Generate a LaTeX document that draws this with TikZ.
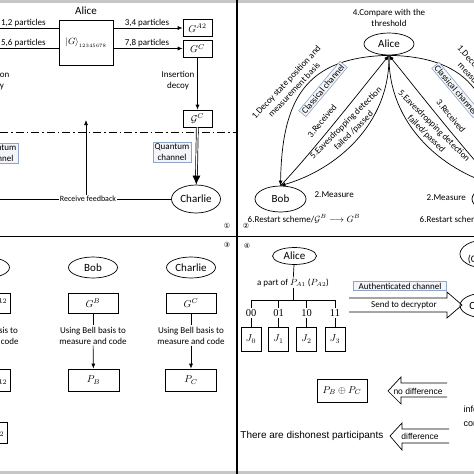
\documentclass[tikz,border=0pt]{standalone}
\usepackage{fontspec}
\setmainfont{Carlito}
\newfontfamily\arialfont{Liberation Sans}
\newfontfamily\serifnum{Liberation Serif}
\newfontfamily\symbfont{DejaVu Sans}
\usetikzlibrary{arrows.meta, shapes.geometric}

\definecolor{chanedge}{RGB}{140,165,200}
\definecolor{chanfill}{RGB}{243,245,249}

\begin{document}
\begin{tikzpicture}[
  x=1pt, y=-1pt, line width=0.7pt,
  font=\fontsize{9}{11}\selectfont,
  party/.style={
    draw, ellipse, minimum width=49pt, minimum height=21pt,
    inner sep=0pt, font=\fontsize{11}{12}\selectfont
  },
  mbox/.style={
    draw, rectangle, minimum width=50pt, minimum height=20pt,
    inner sep=1pt, font=\fontsize{10}{11}\selectfont
  },
  sbox/.style={mbox, minimum width=29pt, minimum height=17pt},
  jbox/.style={mbox, minimum width=20pt, minimum height=24pt},
  rbox/.style={mbox, text width=44pt, align=right, inner sep=2pt},
  chan/.style={
    draw=chanedge, fill=chanfill, line width=0.6pt,
    inner sep=1.5pt, align=center
  },
  lbl/.style={align=center, inner sep=1pt},
  bit/.style={font=\serifnum\fontsize{10.5}{12}\selectfont, inner sep=1.5pt},
  arr/.style={-{Latex[length=5pt,width=4pt]}},
  qarr/.style={double, double distance=1.2pt, -{Latex[length=9pt,width=8pt]}},
  hollow/.style={line join=miter},
  num/.style={font=\symbfont\fontsize{7}{8}\selectfont, inner sep=0pt},
  sep/.style={line width=1.8pt},
  band/.style={fill=gray!45},
]
\useasboundingbox (0,0) rectangle (474,474);
\clip (0,0) rectangle (474,474);

% frame
\fill[band] (0,0) rectangle (474,3);
\fill[band] (0,471) rectangle (474,474);
\draw[sep] (237,0) -- (237,474);
\draw[sep] (0,236.5) -- (474,236.5);

% (1) particle distribution
\node[font=\fontsize{11}{12}\selectfont] (alice1) at (86,11) {Alice};
\node[draw, minimum width=54pt, minimum height=45pt, inner sep=0pt] (ket) at (86,42.5)
  {$\left|G\right\rangle_{\scriptscriptstyle 12345678}$};
\node[sbox] (ga2) at (197.5,28) {$G^{A2}$};
\node[sbox] (gc)  at (197.5,48.5) {$G^{C}$};
\node[sbox] (sgc) at (197.5,118.5) {$\mathcal{G}^{C}$};
\coordinate (in12) at (-5,28);
\coordinate (in56) at (-5,48.5);
\node[lbl, anchor=east] (p12) at (47,23) {1,2 particles};
\node[lbl, anchor=east] (p56) at (47,43) {5,6 particles};
\node[lbl] (p34) at (147,23) {3,4 particles};
\node[lbl] (p78) at (147,43) {7,8 particles};
\node[lbl] (ins)  at (178,81) {Insertion\\decoy};
\node[lbl] (insl) at (-7,81) {Insertion\\decoy};
\node[chan] (qc)  at (172,152) {Quantum\\channel};
\node[chan] (qcl) at (-1,153) {Quantum\\channel};
\node[party, minimum height=28pt] (charlie1) at (196,199) {Charlie};
\node[fill=white, inner sep=1pt, font=\fontsize{8}{9}\selectfont] (fb) at (88,199) {Receive feedback};
\coordinate (fbend) at (-5,199);
\coordinate (fbtop) at (86,120);
\node[num] (n1) at (227,226) {①};

\draw (ket.west |- in12) -- (in12);
\draw (ket.west |- in56) -- (in56);
\draw[arr] (ket.east |- ga2) -- (ga2);
\draw[arr] (ket.east |- gc) -- (gc);
\draw[arr] (gc) -- (sgc);
\draw[dash pattern=on 8pt off 3pt on 1.5pt off 3pt] (0,132) -- (237,132);
\draw[qarr] (sgc) -- (charlie1);
\draw (charlie1) -- (fb) -- (fbend);
\draw[arr] (fb.north -| fbtop) -- (fbtop);

% (2) decoy check
\node[lbl] (cmp) at (389,18) {4.Compare with the\\threshold};
\node[party, minimum width=50pt, minimum height=22pt] (alice2) at (389,44) {Alice};
\node[party, minimum width=51pt, minimum height=26pt] (bob2) at (280.5,199) {Bob};
\node[party, minimum width=51pt, minimum height=26pt] (charlie2) at (497.5,199) {Charlie};

\draw[arr] (alice2.south) .. controls (305,57) and (282,100) .. (bob2.north);
\draw[arr] (bob2.north) .. controls (310,155) and (365,85) .. (alice2.south);
\draw[arr] (alice2.south) .. controls (390,125) and (335,170) .. (bob2.north);
\draw[arr] (alice2.south) .. controls (473,57) and (496,100) .. (charlie2.north);
\draw[arr] (charlie2.north) .. controls (468,155) and (413,85) .. (alice2.south);
\draw[arr] (alice2.south) .. controls (388,125) and (443,170) .. (charlie2.north);

\node[lbl, rotate=47]  (dec1) at (290,86) {1.Decoy state position and\\measurement basis};
\node[chan, rotate=50] (cl1)  at (323,89) {Classical channel};
\node[lbl, rotate=50]  (rc1)  at (322,121) {3.Received};
\node[lbl, rotate=45]  (ev1)  at (350,127) {5.Eavesdropping detection\\failed /passed};
\node[lbl, rotate=-47]  (dec2) at (488,86) {1.Decoy state position and\\measurement basis};
\node[chan, rotate=-50] (cl2)  at (456,90) {Classical channel};
\node[lbl, rotate=-50]  (rc2)  at (451,116) {3.Received};
\node[lbl, rotate=-45]  (ev2)  at (430,130) {5.Eavesdropping detection\\failed/passed};

\node[anchor=west] (ms1) at (311,195) {2.Measure};
\node (rs1) at (304,219) {6.Restart scheme/$\mathcal{G}^B\longrightarrow G^B$};
\node[anchor=west] (ms2) at (423,198) {2.Measure};
\node[anchor=west] (rs2) at (416,219) {6.Restart scheme/$\mathcal{G}^C\longrightarrow G^C$};
\node[num] (n2) at (246,226) {②};

% (3) measurement
\node[num] (n3) at (227,245) {③};
\node[party] (alice3)   at (-15,267.5) {Alice};
\node[party] (bob3)     at (93,267.5) {Bob};
\node[party] (charlie3) at (191,267.5) {Charlie};
\node[rbox] (ga3) at (-15,303) {$G^{A2}$};
\node[mbox] (gb3) at (93,303) {$G^{B}$};
\node[mbox] (gc3) at (191,303) {$G^{C}$};
\node[lbl] (ua) at (-15,335.5) {Using Bell basis to\\measure and code};
\node[lbl] (ub) at (93,335.5) {Using Bell basis to\\measure and code};
\node[lbl] (uc) at (191,335.5) {Using Bell basis to\\measure and code};
\node[rbox, minimum height=22pt] (pa) at (-15,380) {$P_{A2}$};
\node[mbox, minimum width=51pt, minimum height=22pt] (pb) at (93.5,380) {$P_B$};
\node[mbox, minimum width=51pt, minimum height=22pt] (pc) at (191,380) {$P_C$};
\node[rbox, minimum height=21pt] (pab) at (-18,432.5) {$P_{A1}\oplus P_{A2}$};

\draw (ga3) -- (ua);
\draw (gb3) -- (ub);
\draw (gc3) -- (uc);
\draw[arr] (ua) -- (pa);
\draw[arr] (ub) -- (pb);
\draw[arr] (uc) -- (pc);

% (4) decryption
\node[num] (n4) at (247,246) {④};
\node[party, minimum width=44pt, minimum height=17pt] (alice4) at (294.5,256) {Alice};
\node[lbl] (part) at (293,283) {a part of $P_{A1}$ ($P_{A2}$)};
\coordinate (bar) at (293,300);
\node[bit] (b0) at (251,313) {00};
\node[bit] (b1) at (278.5,313) {01};
\node[bit] (b2) at (306.5,313) {10};
\node[bit] (b3) at (335,313) {11};
\node[jbox] (j0) at (251,339) {$J_0$};
\node[jbox] (j1) at (278.5,339) {$J_1$};
\node[jbox] (j2) at (306.5,339) {$J_2$};
\node[jbox] (j3) at (335,339) {$J_3$};

\draw (alice4) -- (part);
\draw (part) -- (bar);
\draw (b0 |- bar) -- (b3 |- bar);
\draw (b0 |- bar) -- (b0);
\draw (b1 |- bar) -- (b1);
\draw (b2 |- bar) -- (b2);
\draw (b3 |- bar) -- (b3);
\draw (b0) -- (j0);
\draw (b1) -- (j1);
\draw (b2) -- (j2);
\draw (b3) -- (j3);

\node[chan, minimum width=93pt] (auth) at (400,286) {Authenticated channel};
\draw[hollow] (349,298) -- (447,298) -- (447,292) -- (462,305) -- (447,318) -- (447,312) -- (349,312);
\node (send) at (404,305) {Send to decryptor};
\node[party, minimum width=50pt, minimum height=28pt, align=center,
  font=\fontsize{10}{11}\selectfont] (bc4) at (485,254) {Bob\\(Charlie)};
\node[party, minimum width=50pt, minimum height=25pt] (charlie4) at (485,305.5) {Charlie};

\node[mbox, minimum height=23pt] (pbc) at (342,390.5) {$P_B\oplus P_C$};
\draw[hollow] (447,383) -- (401,383) -- (401,377) -- (388,391) -- (401,404) -- (401,397) -- (447,397);
\node[font=\arialfont\fontsize{8.5}{10}\selectfont] (nod) at (418,391) {no difference};
\draw[hollow] (449,429) -- (402,429) -- (402,423) -- (390,436) -- (402,450) -- (402,443) -- (449,443);
\node[font=\arialfont\fontsize{8.5}{10}\selectfont] (dif) at (420,436) {difference};
\node[anchor=east, font=\arialfont\fontsize{10}{12}\selectfont] (dis) at (387,436) {There are dishonest participants};
\node[anchor=west, align=left, font=\arialfont\fontsize{9}{14}\selectfont] (info) at (460,416) {information\\consistent};

\end{tikzpicture}
\end{document}
